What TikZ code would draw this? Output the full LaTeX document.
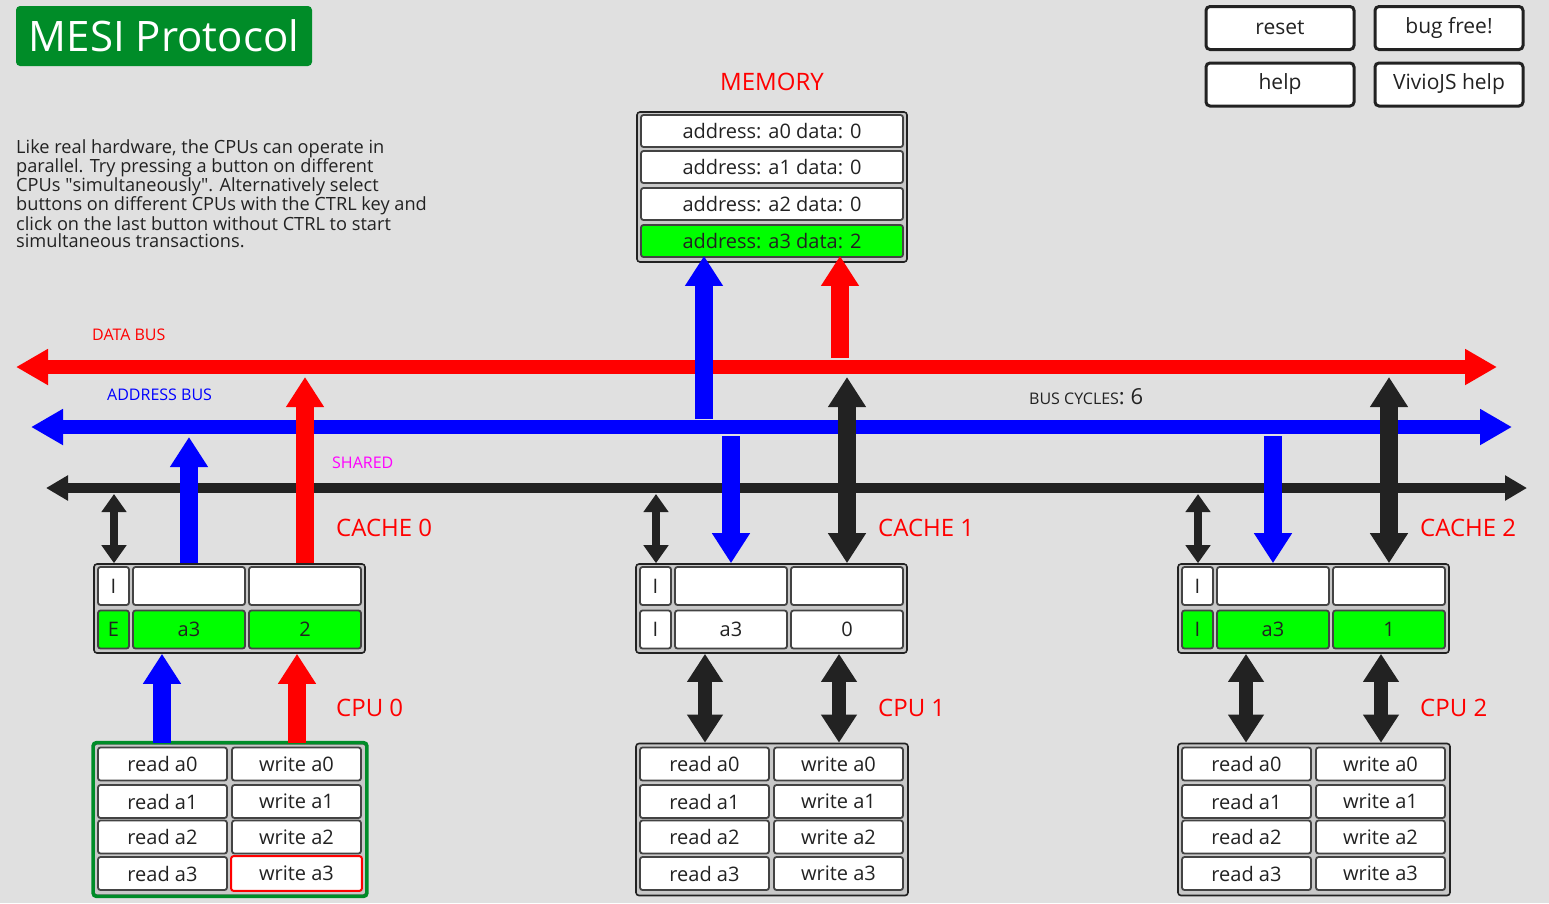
\documentclass[tikz,border=0pt]{standalone}
\usepackage{fontspec}
\setmainfont{Open Sans}
\usetikzlibrary{arrows.meta}
\definecolor{bg}{RGB}{224,224,224}
\definecolor{tg}{RGB}{0,140,40}
\definecolor{lg}{RGB}{0,255,0}
\definecolor{dk}{RGB}{34,34,34}
\definecolor{bl}{RGB}{0,0,255}
\definecolor{rd}{RGB}{255,0,0}
\definecolor{mg}{RGB}{255,0,255}
\tikzset{
 cell/.style={draw=dk!85,line width=1.8pt,rounded corners=2.5pt,fill=white,inner sep=0pt,font=\fontsize{20}{20}\selectfont,text=dk},
 btn/.style={draw=dk,line width=3pt,rounded corners=4pt,fill=white,inner sep=0pt,minimum width=148pt,minimum height=43pt,font=\fontsize{21}{21}\selectfont,text=dk},
 frame/.style={draw=dk,line width=1.6pt,rounded corners=3pt,fill=bg!75!gray,inner sep=0pt},
 big/.style={line width=18pt,-{Triangle[width=36pt,length=30pt]}},
 bigd/.style={line width=18pt,{Triangle[width=36pt,length=30pt]}-{Triangle[width=36pt,length=30pt]}},
 midd/.style={line width=14pt,{Triangle[width=34pt,length=28pt]}-{Triangle[width=34pt,length=28pt]}},
 smd/.style={line width=8pt,{Triangle[width=24pt,length=18pt]}-{Triangle[width=24pt,length=18pt]}},
 bus/.style={line width=14pt,{Triangle[width=34pt,length=32pt]}-{Triangle[width=34pt,length=32pt]}},
 lab/.style={text=rd,font=\fontsize{24}{24}\selectfont,anchor=west,inner sep=0pt},
}
\begin{document}
\begin{tikzpicture}[x=1pt,y=-1pt]
\fill[bg] (0,0) rectangle (1549,903);
\useasboundingbox (0,0) rectangle (1549,903);
% title
\node[fill=tg,rounded corners=4pt,minimum width=296pt,minimum height=60pt,text=white,font=\fontsize{42}{42}\selectfont,inner sep=0pt] (title) at (164,36) {MESI Protocol};
\node[btn] (reset) at (1280,28) {reset};
\node[btn] (bug) at (1449,28) {bug free!};
\node[btn] (help) at (1280,84.5) {help};
\node[btn] (vhelp) at (1449,84.5) {VivioJS help};
% description
\node[anchor=north west,inner sep=0pt,align=left,text=dk,font=\fontsize{18.2}{17.6}\selectfont] (desc) at (16,139) {Like real hardware, the CPUs can operate in\\parallel. Try pressing a button on different\\CPUs \textquotedbl simultaneously\textquotedbl. Alternatively select\\buttons on different CPUs with the CTRL key and\\click on the last button without CTRL to start\\simultaneous transactions.};
% memory
\node[text=rd,font=\fontsize{24}{24}\selectfont,inner sep=0pt] (memlab) at (772,82) {MEMORY};
\node[frame,minimum width=270pt,minimum height=150pt] (mem) at (772,187) {};
\node[cell,minimum width=262pt,minimum height=32pt] (m0) at (772,131) {address: a0 data: 0};
\node[cell,minimum width=262pt,minimum height=32pt] (m1) at (772,167) {address: a1 data: 0};
\node[cell,minimum width=262pt,minimum height=32pt] (m2) at (772,204) {address: a2 data: 0};
\node[cell,fill=lg,minimum width=262pt,minimum height=32pt] (m3) at (772,241) {address: a3 data: 2};
% buses
\coordinate (dbL) at (16,367); \coordinate (dbR) at (1497,367);
\coordinate (abL) at (31,427); \coordinate (abR) at (1512,427);
\coordinate (sbL) at (46,488); \coordinate (sbR) at (1527,488);
\draw[bus,rd] (dbL) -- (dbR);
\draw[bus,bl] (abL) -- (abR);
\draw[dk,line width=10pt,{Triangle[width=24pt,length=22pt]}-{Triangle[width=24pt,length=22pt]}] (sbL) -- (sbR);
\node[text=rd,font=\fontsize{16}{16}\selectfont,anchor=west,inner sep=0pt] (dbl) at (92,335) {DATA BUS};
\node[text=bl,font=\fontsize{16}{16}\selectfont,anchor=west,inner sep=0pt] (abl) at (107,395) {ADDRESS BUS};
\node[text=mg,font=\fontsize{16}{16}\selectfont,anchor=west,inner sep=0pt] (sbl) at (332,463) {SHARED};
\node[text=dk,anchor=west,inner sep=0pt] (cyc) at (1029,397) {\fontsize{16}{16}\selectfont BUS CYCLES\fontsize{22}{22}\selectfont: 6};
% memory arrows
\coordinate (mb) at (704,419); \coordinate (mr) at (840,358);
\draw[big,bl] (mb) -- ([yshift=2pt]m3.south -| mb);
\draw[big,rd] (mr) -- ([yshift=2pt]m3.south -| mr);
% caches and cpus
\foreach \i/\dx/\st/\ad/\dt/\fl in {0/0/E/a3/2/lg, 1/542/I/a3/0/white, 2/1084/I/a3/1/lg}{
 \begin{scope}[xshift=\dx pt]
  \node[frame,minimum width=271pt,minimum height=89pt] (c\i) at (229.5,608.5) {};
  \node[cell,minimum width=31pt,minimum height=38pt] (c\i s0) at (113.5,586) {I};
  \node[cell,minimum width=112pt,minimum height=38pt] (c\i a0) at (189,586) {};
  \node[cell,minimum width=112pt,minimum height=38pt] (c\i d0) at (305,586) {};
  \node[cell,fill=\fl,minimum width=31pt,minimum height=38pt] (c\i s1) at (113.5,629.5) {\st};
  \node[cell,fill=\fl,minimum width=112pt,minimum height=38pt] (c\i a1) at (189,629.5) {\ad};
  \node[cell,fill=\fl,minimum width=112pt,minimum height=38pt] (c\i d1) at (305,629.5) {\dt};
  \node[lab] (cl\i) at (336,528) {CACHE \i};
  \node[lab] (pl\i) at (336,708) {CPU \i};
  \node[frame,minimum width=272pt,minimum height=152pt] (p\i) at (230,819.5) {};
  \foreach \r/\y in {0/764,1/801.5,2/837,3/873.5}{
   \node[cell,minimum width=129pt,minimum height=33pt] (p\i r\r) at (162.5,\y) {read a\r};
   \node[cell,minimum width=129pt,minimum height=33pt] (p\i w\r) at (296.5,\y) {write a\r};
  }
  \coordinate (sh\i) at (114,494);
  \draw[smd,dk] (sh\i) -- (c\i.north -| sh\i);
 \end{scope}
}
\draw[draw=tg,line width=3.5pt,rounded corners=3pt] (p0.south west) rectangle (p0.north east);
\draw[cell,draw=rd,line width=2pt] (p0w3.south west) rectangle (p0w3.north east);
\node[font=\fontsize{20}{20}\selectfont,text=dk,inner sep=0pt] at (p0w3) {write a3};
% cache 0 arrows
\coordinate (c0ab) at (189,437); \coordinate (c0db) at (305,377);
\draw[big,bl] (c0.north -| c0ab) -- (c0ab);
\draw[big,rd] (c0.north -| c0db) -- (c0db);
\draw[big,bl] (p0.north -| 162,0) -- (c0.south -| 162,0);
\draw[big,rd] (p0.north -| 297,0) -- (c0.south -| 297,0);
% cache 1 arrows
\coordinate (c1ab) at (731,436); \coordinate (c1sb) at (847,377);
\draw[big,bl] (c1ab) -- (c1.north -| c1ab);
\draw[bigd,dk] (c1sb) -- (c1.north -| c1sb);
\draw[midd,dk] (p1.north -| 705,0) -- (c1.south -| 705,0);
\draw[midd,dk] (p1.north -| 839,0) -- (c1.south -| 839,0);
% cache 2 arrows
\coordinate (c2ab) at (1273,436); \coordinate (c2sb) at (1389,377);
\draw[big,bl] (c2ab) -- (c2.north -| c2ab);
\draw[bigd,dk] (c2sb) -- (c2.north -| c2sb);
\draw[midd,dk] (p2.north -| 1246,0) -- (c2.south -| 1246,0);
\draw[midd,dk] (p2.north -| 1381,0) -- (c2.south -| 1381,0);
\end{tikzpicture}
\end{document}
